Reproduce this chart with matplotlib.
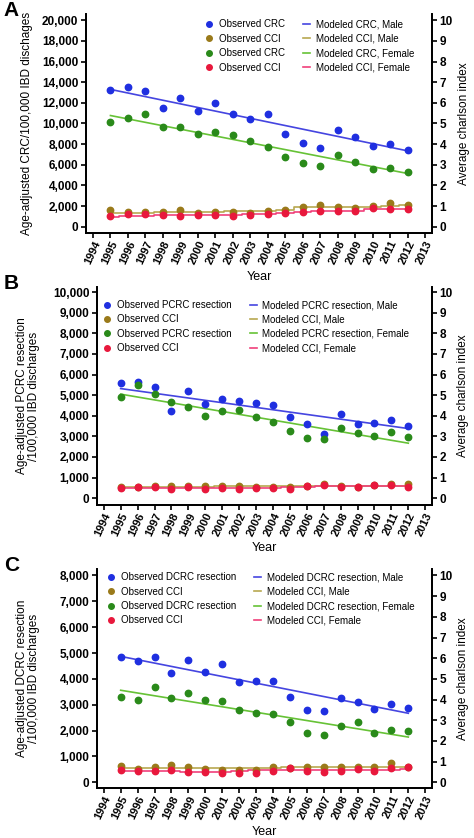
import numpy as np
import matplotlib
matplotlib.use("Agg")
import matplotlib.pyplot as plt
from matplotlib.lines import Line2D

plt.rcParams['font.family'] = ['Liberation Sans', 'DejaVu Sans']

# Jahre
years = list(range(1995, 2013))
fit_years = [1995, 2012]

# Panel A - CRC
crc_male_obs = [13250, 13500, 13150, 11500, 12500, 11250, 11950, 10950, 10450,
                10900, 8950, 8150, 7600, 9400, 8650, 7850, 8000, 7450]
crc_female_obs = [10100, 10500, 10900, 9700, 9650, 8950, 9150, 8900, 8300,
                  7700, 6800, 6150, 5850, 6950, 6250, 5550, 5700, 5350]
crc_male_fit = [13300, 7350]
crc_female_fit = [10770, 5160]
cci_a_male_obs = [0.81, 0.71, 0.73, 0.73, 0.79, 0.69, 0.73, 0.71, 0.69,
                  0.76, 0.82, 0.97, 1.05, 0.94, 0.89, 1.02, 1.15, 1.06]
cci_a_female_obs = [0.53, 0.63, 0.61, 0.55, 0.52, 0.56, 0.56, 0.53, 0.55,
                    0.60, 0.68, 0.73, 0.77, 0.77, 0.74, 0.92, 0.85, 0.87]
cci_a_male_fit = [0.66, 0.68, 0.69, 0.71, 0.71, 0.73, 0.73, 0.74, 0.74,
                  0.77, 0.81, 0.94, 0.95, 0.95, 0.97, 0.98, 1.02, 1.03]
cci_a_female_fit = [0.47, 0.50, 0.50, 0.55, 0.55, 0.56, 0.58, 0.58, 0.60,
                    0.61, 0.68, 0.73, 0.74, 0.74, 0.74, 0.84, 0.85, 0.85]

# Panel B - PCRC resection
pcrc_male_obs = [5600, 5650, 5400, 4250, 5200, 4550, 4800, 4700, 4600,
                 4500, 3950, 3600, 3100, 4100, 3600, 3650, 3800, 3500]
pcrc_female_obs = [4920, 5470, 5060, 4690, 4450, 3970, 4230, 4290, 3940,
                   3680, 3260, 2940, 2860, 3420, 3180, 3010, 3230, 2990]
pcrc_male_fit = [5320, 3380]
pcrc_female_fit = [5050, 2670]
cci_b_male_obs = [0.56, 0.56, 0.61, 0.58, 0.58, 0.58, 0.61, 0.58, 0.55,
                  0.52, 0.55, 0.59, 0.71, 0.58, 0.55, 0.63, 0.69, 0.69]
cci_b_female_obs = [0.47, 0.55, 0.55, 0.43, 0.55, 0.43, 0.48, 0.45, 0.47,
                    0.50, 0.45, 0.58, 0.66, 0.56, 0.55, 0.63, 0.66, 0.56]
cci_b_male_fit = [0.55, 0.55, 0.56, 0.56, 0.56, 0.56, 0.57, 0.57, 0.57,
                  0.57, 0.58, 0.58, 0.59, 0.59, 0.60, 0.60, 0.61, 0.61]
cci_b_female_fit = [0.47, 0.47, 0.47, 0.47, 0.47, 0.47, 0.47, 0.47, 0.47,
                    0.47, 0.56, 0.56, 0.57, 0.57, 0.57, 0.57, 0.57, 0.60]

# Panel C - DCRC resection
dcrc_male_obs = [4850, 4700, 4860, 4230, 4740, 4250, 4570, 3870, 3900,
                 3920, 3290, 2800, 2740, 3260, 3110, 2840, 3040, 2890]
dcrc_female_obs = [3310, 3180, 3670, 3270, 3470, 3200, 3140, 2780, 2680,
                   2650, 2320, 1910, 1830, 2160, 2320, 1910, 2040, 2000]
dcrc_male_fit = [4870, 2670]
dcrc_female_fit = [3560, 1750]
cci_c_male_obs = [0.77, 0.66, 0.72, 0.84, 0.76, 0.62, 0.61, 0.61, 0.61,
                  0.76, 0.69, 0.76, 0.74, 0.74, 0.72, 0.72, 0.95, 0.74]
cci_c_female_obs = [0.58, 0.55, 0.53, 0.61, 0.50, 0.50, 0.45, 0.45, 0.45,
                    0.56, 0.68, 0.56, 0.50, 0.56, 0.63, 0.56, 0.68, 0.72]
cci_c_male_fit = [0.69, 0.68, 0.68, 0.68, 0.68, 0.67, 0.67, 0.67, 0.67,
                  0.71, 0.72, 0.72, 0.72, 0.73, 0.73, 0.73, 0.74, 0.74]
cci_c_female_fit = [0.53, 0.53, 0.53, 0.53, 0.52, 0.52, 0.52, 0.53, 0.57,
                    0.57, 0.57, 0.58, 0.58, 0.58, 0.59, 0.59, 0.60, 0.62]

# Farben
c_blue = "#1f2fe0"
c_olive = "#9a7a1a"
c_green = "#2a8a1a"
c_red = "#e8183c"
c_blue_l = "#4545e0"
c_olive_l = "#b8a850"
c_green_l = "#66c236"
c_pink_l = "#f0407a"


def panel(rect, label_x, letter, ylim, yticks, ylabel, legend_x, legend_y, name,
          male_obs, female_obs, male_fit, female_fit,
          cci_m_obs, cci_f_obs, cci_m_fit, cci_f_fit):
    ax = fig.add_axes(rect)
    ax2 = ax.twinx()
    ax.set_zorder(ax2.get_zorder() + 1)
    ax.patch.set_visible(False)

    ms = 4.6
    # CCI auf rechter Achse
    ax2.plot(years, cci_m_fit, "-", color=c_olive_l, lw=1.2, drawstyle="steps-mid")
    ax2.plot(years, cci_f_fit, "-", color=c_pink_l, lw=1.2, drawstyle="steps-mid")
    ax2.plot(years, cci_m_obs, "o", color=c_olive, ms=ms)
    ax2.plot(years, cci_f_obs, "o", color=c_red, ms=ms)

    # Raten auf linker Achse
    ax.plot(fit_years, male_fit, "-", color=c_blue_l, lw=1.2)
    ax.plot(fit_years, female_fit, "-", color=c_green_l, lw=1.2)
    ax.plot(years, male_obs, "o", color=c_blue, ms=ms)
    ax.plot(years, female_obs, "o", color=c_green, ms=ms)

    ax.set_xlim(1993.6, 2013.4)
    ax.set_ylim(ylim[0], ylim[1])
    ax2.set_ylim(ylim[0] / ylim[2], ylim[1] / ylim[2])
    ax.set_yticks(yticks)
    ax.set_yticklabels([f"{v:,}" for v in yticks])
    ax2.set_yticks(range(0, 11))
    ax.set_xticks(range(1994, 2014))
    ax.set_xticklabels([str(y) for y in range(1994, 2014)], rotation=65,
                       ha="right", rotation_mode="anchor")

    for a in (ax, ax2):
        a.spines["top"].set_visible(False)
        for s in ("left", "right", "bottom"):
            a.spines[s].set_linewidth(1.3)
        a.tick_params(width=1.2, length=3.5, labelsize=8.5, pad=2)
        for lab in a.get_yticklabels() + a.get_xticklabels():
            lab.set_fontweight("bold")
    ax.tick_params(axis="x", pad=1, labelsize=8)

    ax.set_ylabel(ylabel, fontsize=8.5, linespacing=1.0)
    ax.yaxis.set_label_coords(label_x, 0.5)
    ax2.set_ylabel("Average charlson index", fontsize=8.5)
    ax2.yaxis.set_label_coords(1.075, 0.5)
    ax.set_xlabel("Year", fontsize=9)
    ax.xaxis.set_label_coords(0.5, -0.172)

    handles = [
        Line2D([], [], ls="none", marker="o", color=c_blue, ms=4),
        Line2D([], [], ls="none", marker="o", color=c_olive, ms=4),
        Line2D([], [], ls="none", marker="o", color=c_green, ms=4),
        Line2D([], [], ls="none", marker="o", color=c_red, ms=4),
        Line2D([], [], color=c_blue_l, lw=1.2),
        Line2D([], [], color=c_olive_l, lw=1.2),
        Line2D([], [], color=c_green_l, lw=1.2),
        Line2D([], [], color=c_pink_l, lw=1.2),
    ]
    labels = [f"Observed {name}", "Observed CCI", f"Observed {name}", "Observed CCI",
              f"Modeled {name}, Male", "Modeled CCI, Male",
              f"Modeled {name}, Female", "Modeled CCI, Female"]
    ax.legend(handles, labels, ncol=2, loc="upper left",
              bbox_to_anchor=(legend_x, legend_y), frameon=False, fontsize=7,
              handlelength=0.7, handletextpad=0.6, columnspacing=1.9,
              labelspacing=0.45, borderpad=0, borderaxespad=0)

    fig.text(0.008, rect[1] + rect[3] + 0.015, letter, fontsize=15,
             fontweight="bold", va="top")
    return ax


fig = plt.figure(figsize=(4.74, 8.38), dpi=100)

panel([0.1814, 0.7220, 0.7300, 0.2613], -0.153, "A", (-600, 20600, 2000),
      list(range(0, 20001, 2000)), "Age-adjusted CRC/100,000 IBD dischages",
      0.347, 0.975, "CRC",
      crc_male_obs, crc_female_obs, crc_male_fit, crc_female_fit,
      cci_a_male_obs, cci_a_female_obs, cci_a_male_fit, cci_a_female_fit)

panel([0.2046, 0.3974, 0.7068, 0.2601], -0.17, "B", (-330, 10250, 1000),
      list(range(0, 10001, 1000)),
      "Age-adjusted PCRC resection\n/100,000 IBD discharges",
      0.021, 0.94, "PCRC resection",
      pcrc_male_obs, pcrc_female_obs, pcrc_male_fit, pcrc_female_fit,
      cci_b_male_obs, cci_b_female_obs, cci_b_male_fit, cci_b_female_fit)

panel([0.2046, 0.0597, 0.7068, 0.2613], -0.17, "C", (-220, 8250, 800),
      list(range(0, 8001, 1000)),
      "Age-adjusted DCRC resection\n/100,000 IBD discharges",
      0.033, 0.985, "DCRC resection",
      dcrc_male_obs, dcrc_female_obs, dcrc_male_fit, dcrc_female_fit,
      cci_c_male_obs, cci_c_female_obs, cci_c_male_fit, cci_c_female_fit)

fig.savefig("out.png", dpi=100)
